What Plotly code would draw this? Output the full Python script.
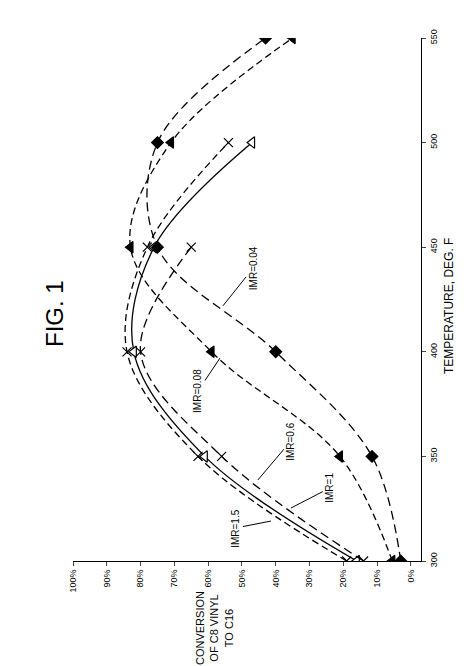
import plotly.graph_objects as go

# temperature (deg F) and conversion (%)
temps = [300, 350, 400, 450, 500, 550]

imr_15 = [19, 63, 84, 78, 54]
imr_1 = [16, 61, 82, 76, 47]
imr_06 = [14, 56, 80, 65]
imr_008 = [5.5, 21, 59, 83, 71, 35]
imr_004 = [3, 11.5, 40, 75, 75, 43]

conv_ticks = [0, 10, 20, 30, 40, 50, 60, 70, 80, 90, 100]
temp_ticks = [300, 350, 400, 450, 500, 550]

fig = go.Figure()

def add_curve(vals, symbol, dash, size=8, open_marker=False):
    fig.add_trace(go.Scatter(
        x=vals, y=temps[:len(vals)], mode='lines+markers',
        line=dict(color='black', width=1.3, dash=dash, shape='spline', smoothing=1.0),
        marker=dict(symbol=symbol, size=size, color='white' if open_marker else 'black',
                    line=dict(color='black', width=1.2)),
        showlegend=False))

add_curve(imr_15, 'x-thin', '7px,4px', size=9)
add_curve(imr_1, 'triangle-left', 'solid', size=10, open_marker=True)
add_curve(imr_06, 'x-thin', '9px,5px', size=9)
add_curve(imr_008, 'triangle-left', '7px,4px', size=10)
add_curve(imr_004, 'diamond', '9px,5px', size=9)

# curve labels: (text, text conv, text temp, target conv, target temp)
labels = [
    ('IMR=1.5', 51.8, 315.8, 41.4, 319.1),
    ('IMR=1', 24.0, 334.9, 35.5, 325.3),
    ('IMR=0.6', 35.5, 357.4, 45.3, 338.7),
    ('IMR=0.08', 63.0, 381.3, 56.5, 397.0),
    ('IMR=0.04', 46.7, 440.0, 55.6, 422.0),
]
for txt, tx, ty, px, py in labels:
    fig.add_annotation(x=px, y=py, ax=tx, ay=ty, axref='x', ayref='y',
                       text=txt, textangle=-90, showarrow=True, arrowhead=0,
                       arrowwidth=1, arrowcolor='black',
                       font=dict(size=10, color='black', family='Liberation Sans'))

fig.add_annotation(x=46, y=306, xref='paper', yref='paper', text='FIG. 1',
                   textangle=-90, showarrow=False,
                   font=dict(size=24, color='black', family='Liberation Sans'))
fig.add_annotation(x=441, y=298, xref='paper', yref='paper', text='TEMPERATURE, DEG. F',
                   textangle=-90, showarrow=False,
                   font=dict(size=12, color='black', family='Liberation Sans'))
fig.add_annotation(x=206, y=620, xref='paper', yref='paper',
                   text='CONVERSION<br>OF C8 VINYL<br>TO C16',
                   textangle=-90, showarrow=False, align='center',
                   font=dict(size=11, color='black', family='Liberation Sans'))

# paper coords given in pixels above -> convert to paper fractions
W, H = 474, 666
L, R, T, B = 65, 61, 30, 113
for a in fig.layout.annotations:
    if a.xref == 'paper':
        a.x = (a.x - L) / (W - L - R)
        a.y = (H - a.y - B) / (H - T - B)
        a.xanchor = 'center'
        a.yanchor = 'middle'

fig.update_xaxes(range=[100, -3], tickvals=conv_ticks,
                 ticktext=[f'{v}%' for v in conv_ticks], tickangle=-90,
                 ticks='outside', ticklen=4, showline=True, linecolor='black',
                 showgrid=False, zeroline=False,
                 tickfont=dict(size=9, color='black', family='Liberation Sans'))
fig.update_yaxes(range=[300, 550], tickvals=temp_ticks, side='right', tickangle=-90,
                 ticks='outside', ticklen=4, showline=True, linecolor='black',
                 showgrid=False, zeroline=False,
                 tickfont=dict(size=9, color='black', family='Liberation Sans'))

fig.update_layout(width=W, height=H, margin=dict(l=L, r=R, t=T, b=B),
                  plot_bgcolor='white', paper_bgcolor='white')

fig.write_html("out.html")
